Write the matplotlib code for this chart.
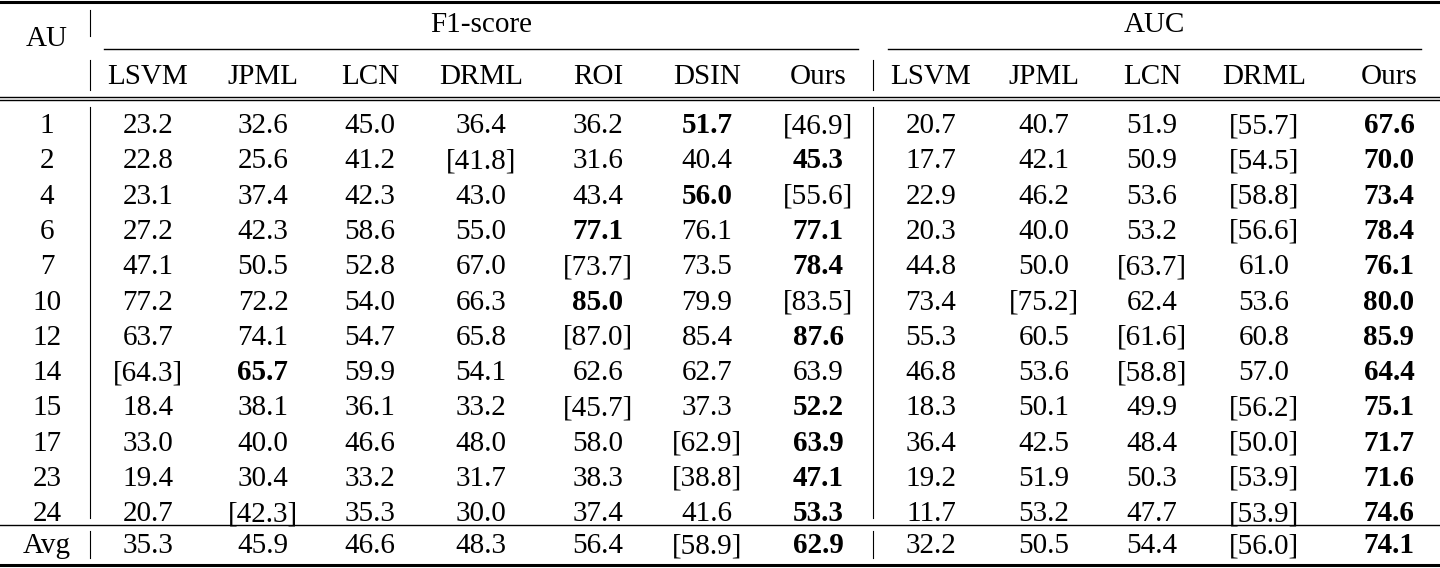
import matplotlib
matplotlib.use("Agg")
import matplotlib.pyplot as plt

aus = ["1","2","4","6","7","10","12","14","15","17","23","24"]
f1_methods = ["LSVM","JPML","LCN","DRML","ROI","DSIN","Ours"]
auc_methods = ["LSVM","JPML","LCN","DRML","Ours"]
f1 = [
 ["23.2","32.6","45.0","36.4","36.2","*51.7","[46.9]"],
 ["22.8","25.6","41.2","[41.8]","31.6","40.4","*45.3"],
 ["23.1","37.4","42.3","43.0","43.4","*56.0","[55.6]"],
 ["27.2","42.3","58.6","55.0","*77.1","76.1","*77.1"],
 ["47.1","50.5","52.8","67.0","[73.7]","73.5","*78.4"],
 ["77.2","72.2","54.0","66.3","*85.0","79.9","[83.5]"],
 ["63.7","74.1","54.7","65.8","[87.0]","85.4","*87.6"],
 ["[64.3]","*65.7","59.9","54.1","62.6","62.7","63.9"],
 ["18.4","38.1","36.1","33.2","[45.7]","37.3","*52.2"],
 ["33.0","40.0","46.6","48.0","58.0","[62.9]","*63.9"],
 ["19.4","30.4","33.2","31.7","38.3","[38.8]","*47.1"],
 ["20.7","[42.3]","35.3","30.0","37.4","41.6","*53.3"],
]
auc = [
 ["20.7","40.7","51.9","[55.7]","*67.6"],
 ["17.7","42.1","50.9","[54.5]","*70.0"],
 ["22.9","46.2","53.6","[58.8]","*73.4"],
 ["20.3","40.0","53.2","[56.6]","*78.4"],
 ["44.8","50.0","[63.7]","61.0","*76.1"],
 ["73.4","[75.2]","62.4","53.6","*80.0"],
 ["55.3","60.5","[61.6]","60.8","*85.9"],
 ["46.8","53.6","[58.8]","57.0","*64.4"],
 ["18.3","50.1","49.9","[56.2]","*75.1"],
 ["36.4","42.5","48.4","[50.0]","*71.7"],
 ["19.2","51.9","50.3","[53.9]","*71.6"],
 ["11.7","53.2","47.7","[53.9]","*74.6"],
]
avg_f1 = ["35.3","45.9","46.6","48.3","56.4","[58.9]","*62.9"]
avg_auc = ["32.2","50.5","54.4","[56.0]","*74.1"]

plt.rcParams['font.family'] = ['Liberation Serif', 'DejaVu Serif']
fig = plt.figure(figsize=(14.4, 5.68), dpi=100)
ax = fig.add_axes([0, 0, 1, 1])
ax.set_xlim(0, 1440); ax.set_ylim(568, 0); ax.axis('off')

fs = 21
x_au = 47
x_f1 = [148, 263, 370, 481, 598, 707, 818]
x_auc = [931, 1044, 1152, 1264, 1389]
vx1, vx2 = 90, 873

def put(x, y, s):
    bold = s.startswith('*')
    ax.text(x, y + 10, s.lstrip('*'), ha='center', va='baseline', fontsize=fs,
            fontweight='bold' if bold else 'normal')

# rules
ax.plot([0, 1440], [2, 2], color='k', lw=2.2)
ax.plot([104, 858], [49, 49], color='k', lw=1)
ax.plot([888, 1421], [49, 49], color='k', lw=1)
ax.plot([0, 1440], [96.5, 96.5], color='k', lw=1)
ax.plot([0, 1440], [100, 100], color='k', lw=1)
ax.plot([0, 1440], [525, 525], color='k', lw=1)
ax.plot([0, 1440], [565, 565], color='k', lw=2.2)

# header
put(x_au, 36, "AU")
put((104 + 858) / 2, 22, "F1-score")
put((888 + 1421) / 2, 22, "AUC")
ax.plot([vx1, vx1], [10, 36], color='k', lw=0.8)
ax.plot([vx1, vx1], [60, 90], color='k', lw=0.8)
ax.plot([vx2, vx2], [60, 90], color='k', lw=0.8)
for x, m in zip(x_f1, f1_methods):
    put(x, 74, m)
for x, m in zip(x_auc, auc_methods):
    put(x, 74, m)

# body
y0, dy = 123, 35.3
for i, au in enumerate(aus):
    y = y0 + i * dy
    put(x_au, y, au)
    for x, v in zip(x_f1, f1[i]):
        put(x, y, v)
    for x, v in zip(x_auc, auc[i]):
        put(x, y, v)
ax.plot([vx1, vx1], [107, 518], color='k', lw=0.8)
ax.plot([vx2, vx2], [107, 518], color='k', lw=0.8)

ya = 543
put(x_au, ya, "Avg")
for x, v in zip(x_f1, avg_f1):
    put(x, ya, v)
for x, v in zip(x_auc, avg_auc):
    put(x, ya, v)
ax.plot([vx1, vx1], [531, 558], color='k', lw=0.8)
ax.plot([vx2, vx2], [531, 558], color='k', lw=0.8)

fig.savefig("out.png", dpi=100)
